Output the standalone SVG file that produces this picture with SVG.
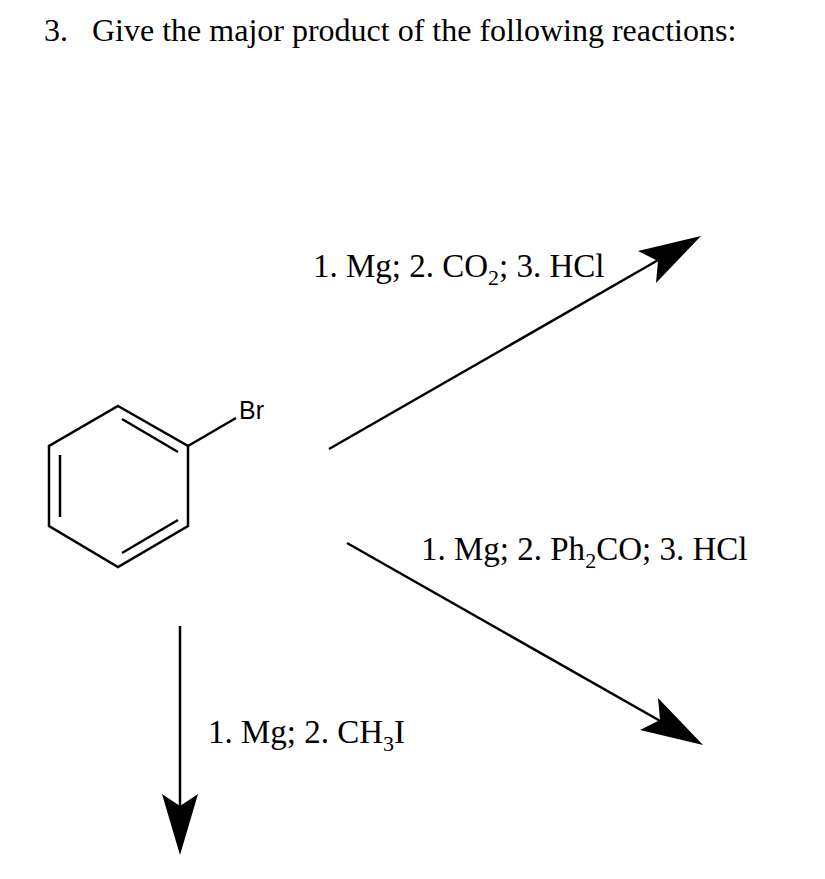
<svg xmlns="http://www.w3.org/2000/svg" width="825" height="879" viewBox="0 0 825 879">
<style>
.t{font-family:"Liberation Serif",serif;font-size:33px;fill:#000}
.s{font-size:22px}
.b{stroke:#000;stroke-width:2.5;fill:none}
.c{stroke:#000;stroke-width:2.5;fill:none}
</style>
<rect width="825" height="879" fill="#fff"/>
<text class="t" x="44" y="41" style="font-size:32px">3.<tspan x="92">Give the major product of the following reactions:</tspan></text>
<g id="bromobenzene">
<polygon class="b" points="118,406 188,446 188,526 118,567 49,526 49,446"/>
<line class="b" x1="122" y1="419" x2="178" y2="452"/>
<line class="b" x1="178" y1="520" x2="122" y2="553"/>
<line class="b" x1="60" y1="455" x2="60" y2="517"/>
<line class="b" x1="188" y1="446" x2="236" y2="418"/>
<text x="239" y="419" font-family="Liberation Sans,sans-serif" font-size="25">Br</text>
</g>
<g id="connectors">
<line class="c" x1="329" y1="449" x2="660" y2="259"/>
<polygon points="701,236 638,251 658,261 656,283"/>
<line class="c" x1="347" y1="543" x2="662" y2="722"/>
<polygon points="703,745 658,698 660,720 640,730"/>
<line class="c" x1="180" y1="626" x2="180" y2="808"/>
<polygon points="180,855 162,794 180,806 198,794"/>
</g>
<g id="labels">
<text class="t" x="313" y="277">1. Mg; 2. CO<tspan class="s" dy="8">2</tspan><tspan dy="-8">; 3. HCl</tspan></text>
<text class="t" x="421" y="560">1. Mg; 2. Ph<tspan class="s" dy="8">2</tspan><tspan dy="-8">CO; 3. HCl</tspan></text>
<text class="t" x="208" y="743">1. Mg; 2. CH<tspan class="s" dy="8">3</tspan><tspan dy="-8">I</tspan></text>
</g>
</svg>
